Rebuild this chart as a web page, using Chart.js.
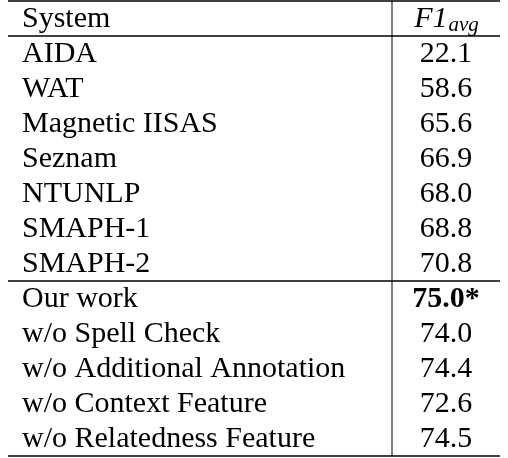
<!DOCTYPE html><html><head><meta charset="utf-8">
<script src="https://cdn.jsdelivr.net/npm/chart.js@4/dist/chart.umd.min.js"></script>
<style>html,body{margin:0;background:#fff}#w{width:508px;height:458px}</style></head><body>
<div id="w"><canvas id="c"></canvas></div>
<script>
const headerSystem = "System";
const systems = ["AIDA","WAT","Magnetic IISAS","Seznam","NTUNLP","SMAPH-1","SMAPH-2","Our work","w/o Spell Check","w/o Additional Annotation","w/o Context Feature","w/o Relatedness Feature"];
const f1avg = [22.1,58.6,65.6,66.9,68.0,68.8,70.8,75.0,74.0,74.4,72.6,74.5];
const boldRow = "Our work";
const labels = [headerSystem].concat(systems);

const tablePlugin = {
  id:'table',
  afterDraw(chart){
    const ctx=chart.ctx, y=chart.scales.y;
    const L=8, R=500, V=392, VC=446;
    const rowH = y.getPixelForValue(1)-y.getPixelForValue(0);
    const lineAt = i => y.getPixelForValue(i)-rowH/2;
    ctx.save();
    ctx.strokeStyle='#000';
    ctx.lineWidth=1.6;
    [lineAt(0), lineAt(1), lineAt(8), lineAt(13)].forEach(p=>{ctx.beginPath();ctx.moveTo(L,p);ctx.lineTo(R,p);ctx.stroke();});
    ctx.lineWidth=1;
    ctx.beginPath();ctx.moveTo(V,lineAt(0));ctx.lineTo(V,lineAt(13));ctx.stroke();
    ctx.fillStyle='#000';ctx.textBaseline='middle';
    const fam='"Liberation Serif", serif';
    labels.forEach((lab,i)=>{
      const py=y.getPixelForValue(i)+1;
      ctx.font='30px '+fam;ctx.textAlign='left';
      ctx.fillText(lab,22,py);
      if(i>0){
        const v=f1avg[i-1];
        const isB = lab===boldRow;
        ctx.font=(isB?'bold ':'')+'30px '+fam;ctx.textAlign='center';
        ctx.fillText(v.toFixed(1)+(isB?'*':''),VC,py);
      }
    });
    const hy=y.getPixelForValue(0)+1;
    ctx.textAlign='left';
    ctx.font='italic 30px '+fam;
    const w1=ctx.measureText('F1').width;
    ctx.font='italic 21px '+fam;
    const w2=ctx.measureText('avg').width;
    const sx=VC-(w1+w2)/2;
    ctx.font='italic 30px '+fam;ctx.fillText('F1',sx,hy);
    ctx.font='italic 21px '+fam;ctx.fillText('avg',sx+w1+1,hy+6);
    ctx.restore();
  }
};

new Chart(document.getElementById('c'),{
  type:'bar',
  data:{labels:labels,datasets:[{data:[null].concat(f1avg),backgroundColor:'rgba(0,0,0,0)',borderWidth:0}]},
  options:{
    indexAxis:'y',responsive:true,maintainAspectRatio:false,animation:false,
    layout:{padding:{top:1,bottom:2,left:0,right:0}},
    plugins:{legend:{display:false},tooltip:{enabled:false}},
    scales:{x:{display:false,min:0,max:100},y:{display:false,offset:true}}
  },
  plugins:[tablePlugin]
});
</script></body></html>
